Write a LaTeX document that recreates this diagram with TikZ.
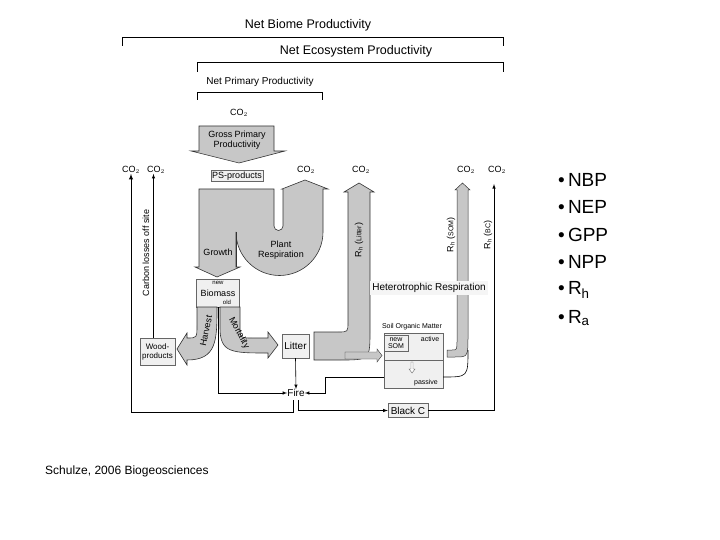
\documentclass[tikz,border=0pt]{standalone}
\usepackage{fontspec}
\setmainfont{Liberation Sans}
\begin{document}
\begin{tikzpicture}[x=1pt,y=-1pt,
  fl/.style={fill=black!22,draw=black!80,line width=0.6pt},
  bx/.style={draw=black!60,fill=black!6,inner sep=1.5pt,font=\fontsize{9}{10}\selectfont,align=center},
  tx/.style={font=\fontsize{9}{10}\selectfont,inner sep=0pt},
  sm/.style={font=\fontsize{6}{7}\selectfont,inner sep=0pt},
  ttl/.style={font=\fontsize{12.5}{14}\selectfont,inner sep=0pt},
  ln/.style={draw=black,line width=0.6pt},
  ar/.style={ln,-latex}]
\useasboundingbox (0,0) rectangle (720,540);
% brackets
\node[ttl] (nbp) at (308,25) {Net Biome Productivity};
\draw[ln] (122,46) -- (122,37) -- (503,37) -- (503,46);
\node[ttl] (nep) at (356,51) {Net Ecosystem Productivity};
\draw[ln] (197,72) -- (197,62) -- (503,62) -- (503,72);
\node[font=\fontsize{10}{12}\selectfont,inner sep=0pt] (npp) at (260,82) {Net Primary Productivity};
\draw[ln] (197,100) -- (197,92) -- (322,92) -- (322,100);
% CO2 labels
\node[tx] (c0) at (239,113) {CO$_2$};
\node[tx] (c1) at (131,170) {CO$_2$};
\node[tx] (c2) at (156,170) {CO$_2$};
\node[tx] (c3) at (306,170) {CO$_2$};
\node[tx] (c4) at (361,170) {CO$_2$};
\node[tx] (c5) at (466,170) {CO$_2$};
\node[tx] (c6) at (497,170) {CO$_2$};
% GPP arrow
\draw[fl] (199,126) -- (274,126) -- (274,151) -- (285,151) -- (239,163) -- (191,151) -- (199,151) -- cycle;
\node[tx,align=center] (gpp) at (237,140) {Gross Primary\\Productivity};
\node[bx] (ps) at (237,176) {PS-products};
% big U
\draw[fl] (199,189) -- (274,189) -- (274,226) arc (180:0:4.5) -- (283,189) -- (282,189) -- (305,180) -- (328,189) -- (323,189) -- (323,232)
  arc (0:180:43.5) -- (236,267) -- (240,267) -- (217,277) -- (195,267) -- (199,267) -- cycle;
\draw[ln,black!80] (236,232) -- (236,267);
\node[tx] (gr) at (218,252) {Growth};
\node[tx,align=center] (pr) at (281,250) {Plant\\Respiration};
% Biomass
\node[draw=black!60,fill=black!6,minimum width=43pt,minimum height=28pt,inner sep=0pt] (bio) at (217.5,293) {};
\node[sm] (bnew) at (218,283) {new};
\node[tx] (btx) at (218,293) {Biomass};
\node[sm] (bold) at (227,302) {old};
% Harvest
\draw[fl] (197,307) -- (197,325) .. controls (197,338) .. (187,338) -- (187,333) -- (177,349) -- (187,365) -- (187,360) .. controls (217,360) and (217,340) .. (217,307) -- cycle;
\node[tx,rotate=78] (hv) at (206,331) {Harvest};
% Mortality
\draw[fl] (220,307) -- (220,328) .. controls (220,353) and (232,353) .. (268,353) -- (268,358) -- (278,345) -- (268,332) -- (268,338) -- (252,338) .. controls (240,338) .. (240,325) -- (240,307) -- cycle;
\node[tx,rotate=-62] (mo) at (239,333) {Mortality};
% wood products
\node[bx,minimum width=35pt,minimum height=27pt,font=\fontsize{8}{9}\selectfont] (wp) at (157.5,351.5) {Wood-\\products};
\draw[ar] (wp.north) ++(-4,0) coordinate (wpt) -- (wpt |- c2.south);
\node[tx,rotate=90] (cl) at (146,253) {Carbon losses off site};
% Litter
\node[bx,minimum width=27pt,minimum height=24pt,font=\fontsize{10}{11}\selectfont] (lit) at (295.5,346) {Litter};
\node[tx,font=\fontsize{10}{11}\selectfont] (fire) at (296,393) {Fire};
\draw[ar] (lit.south) -- (fire.north);
\draw[ar] (218,307) -- (218,393) -- (fire.west);
% Rh litter
\draw[fl] (314,332) -- (338,332) .. controls (348,332) .. (348,322) -- (348,192) -- (344,192) -- (359,183) -- (374,192) -- (370,192) -- (370,330) .. controls (370,360) .. (340,360) -- (314,360) -- cycle;
\node[tx,rotate=90] (rhl) at (359,240) {R$_\mathrm{h}$ ({\fontsize{7}{8}\selectfont Litter})};
% SOM box
\node[sm,font=\fontsize{7}{8}\selectfont] (somt) at (412,327) {Soil Organic Matter};
\node[draw=black!60,fill=black!6,minimum width=59pt,minimum height=55pt,inner sep=0pt] (som) at (413.5,360.5) {};
\draw[black!60] (384,360) -- (443,360);
\node[draw=black!60,fill=black!6,minimum width=24pt,minimum height=16pt,inner sep=0pt,align=center,font=\fontsize{7}{7}\selectfont] (nsom) at (396,343.5) {new\\SOM};
\node[sm,font=\fontsize{7}{8}\selectfont] (act) at (430,339) {active};
\node[sm,font=\fontsize{7}{8}\selectfont] (pas) at (426,383) {passive};
\draw[black!60,fill=white] (411,362) -- (411,369) -- (409,369) -- (412,373) -- (415,369) -- (413,369) -- (413,362) -- cycle;
\draw[fl,line width=0.4pt] (345,352) -- (377,352) -- (377,349) -- (382,355.5) -- (377,362) -- (377,359) -- (345,359) -- cycle;
% Rh SOM
\draw[fl,line width=0.5pt] (447,350) -- (452,350) .. controls (457,350) .. (457,340) -- (457,190) -- (455,190) -- (462.5,183) -- (470,190) -- (468,190) -- (468,335) .. controls (468,357) .. (455,357) -- (447,357) -- cycle;
\node[tx,rotate=90] (rhs) at (451,235) {R$_\mathrm{h}$ ({\fontsize{7}{8}\selectfont SOM})};
\node[tx,rotate=90] (rhb) at (488,235) {R$_\mathrm{h}$ ({\fontsize{7}{8}\selectfont BC})};
\draw[ln] (443,377) .. controls (468,377) .. (468,350);
\draw[ar] (384,377) -- (325,377) -- (325,393) -- (fire.east);
% Heterotrophic
\node[fill=black!4,inner sep=2pt,font=\fontsize{10}{12}\selectfont] (het) at (429,288) {Heterotrophic Respiration};
% lower lines
\node[bx,minimum width=40pt,minimum height=14pt,font=\fontsize{10}{11}\selectfont] (bc) at (408,410.5) {Black C};
\draw[ar,line width=0.9pt] (293,400) -- (293,412) -- (131,412) -- (c1.south);
\draw[ar] (298,400) -- (298,410.5) -- (bc.west);
\draw[ar] (bc.east) -- (494,410.5) -- (494,184);
% bullets
\foreach \t/\y [count=\i] in {NBP/180,NEP/207,GPP/235,NPP/262,{R$_\mathrm{h}$}/290,{R$_\mathrm{a}$}/318}
  \node[font=\fontsize{19}{22}\selectfont,anchor=west,inner sep=0pt] (b\i) at (558,\y) {\textbullet\,\t};
\node[font=\fontsize{12}{14}\selectfont,anchor=west,inner sep=0pt] (src) at (45,471) {Schulze, 2006 Biogeosciences};
\end{tikzpicture}
\end{document}
